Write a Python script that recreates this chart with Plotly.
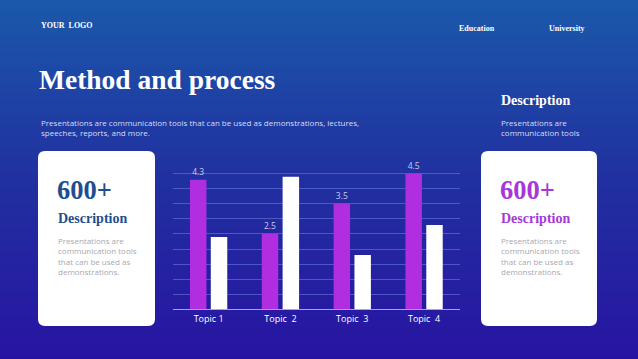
import plotly.graph_objects as go

W, H = 638, 359

categories = ["Topic 1", "Topic  2", "Topic  3", "Topic  4"]
series_a = [4.3, 2.5, 3.5, 4.5]
series_b = [2.4, 4.4, 1.8, 2.8]
y_ticks = [0, 0.5, 1, 1.5, 2, 2.5, 3, 3.5, 4, 4.5, 5]

SERIF = "Liberation Serif"
SANS = "Open Sans"

def px(x):
    return x / W

def py(y):
    return 1 - y / H

fig = go.Figure()

fig.add_trace(go.Bar(
    x=categories, y=series_a, marker=dict(color="#b02ee0", line=dict(width=0)),
    text=[str(v) for v in series_a], textposition="outside",
    textfont=dict(family=SANS, size=8.5, color="#c8c8f0"), cliponaxis=False,
))
fig.add_trace(go.Bar(
    x=categories, y=series_b, marker=dict(color="#ffffff", line=dict(width=0)),
))

shapes = []
top = (27, 88, 170)
mid = (33, 48, 160)
bot = (40, 20, 162)
N = 90
for i in range(N):
    t = i / (N - 1)
    if t < 0.5:
        u = t / 0.5
        c = [round(top[k] + (mid[k] - top[k]) * u) for k in range(3)]
    else:
        u = (t - 0.5) / 0.5
        c = [round(mid[k] + (bot[k] - mid[k]) * u) for k in range(3)]
    shapes.append(dict(
        type="rect", xref="paper", yref="paper", x0=0, x1=1,
        y0=1 - (i + 1) / N - 0.002, y1=1 - i / N,
        fillcolor="rgb(%d,%d,%d)" % tuple(c), line=dict(width=0), layer="below",
    ))

def rounded(x0, y0, x1, y1, r):
    p = []
    p.append("M %f %f" % (px(x0 + r), py(y0)))
    p.append("L %f %f" % (px(x1 - r), py(y0)))
    p.append("Q %f %f %f %f" % (px(x1), py(y0), px(x1), py(y0 + r)))
    p.append("L %f %f" % (px(x1), py(y1 - r)))
    p.append("Q %f %f %f %f" % (px(x1), py(y1), px(x1 - r), py(y1)))
    p.append("L %f %f" % (px(x0 + r), py(y1)))
    p.append("Q %f %f %f %f" % (px(x0), py(y1), px(x0), py(y1 - r)))
    p.append("L %f %f" % (px(x0), py(y0 + r)))
    p.append("Q %f %f %f %f" % (px(x0), py(y0), px(x0 + r), py(y0)))
    p.append("Z")
    return " ".join(p)

for (x0, x1) in [(38, 155), (481, 597)]:
    shapes.append(dict(type="path", xref="paper", yref="paper",
                       path=rounded(x0, 151, x1, 326, 7),
                       fillcolor="#ffffff", line=dict(width=0), layer="below"))

annotations = []

def txt(x, y, s, size, color, family, anchor="left"):
    annotations.append(dict(
        x=px(x), y=py(y), xref="paper", yref="paper", text=s, showarrow=False,
        xanchor=anchor, yanchor="middle", align="left",
        font=dict(family=family, size=size, color=color),
    ))

txt(39, 25, "<b>YOUR  LOGO</b>", 8, "#ffffff", SERIF)
txt(457, 28, "<b>Education</b>", 8, "#ffffff", SERIF)
txt(547, 28, "<b>University</b>", 8, "#ffffff", SERIF)
txt(37, 79, "<b>Method and process</b>", 27.5, "#ffffff", SERIF)
txt(39, 127, "Presentations are communication tools that can be used as demonstrations, lectures,<br>speeches, reports, and more.", 8, "#d8dcf5", SANS)
txt(499, 100, "<b>Description</b>", 14, "#ffffff", SERIF)
txt(499, 127, "Presentations are<br>communication tools", 8, "#d8dcf5", SANS)

for (x, col) in [(56, "#1f4e8e"), (499, "#a638d8")]:
    txt(x - 1, 190, "<b>600+</b>", 26.5, col, SERIF)
    txt(x, 218, "<b>Description</b>", 14, col, SERIF)
    txt(x, 255.5, "Presentations are<br>communication tools<br>that can be used as<br>demonstrations.", 8, "#a8a8b0", SANS)

fig.update_layout(
    width=W, height=H, margin=dict(l=0, r=0, t=0, b=0),
    paper_bgcolor="#2330a0", plot_bgcolor="rgba(0,0,0,0)",
    shapes=shapes, annotations=annotations,
    barmode="group", bargap=0.42, bargroupgap=0.21,
    showlegend=False,
    xaxis=dict(domain=[px(172.7), px(460)], showgrid=False, showline=False,
               ticks="", tickfont=dict(family=SANS, size=9, color="#ffffff"),
               ticklabelstandoff=3, zeroline=False),
    yaxis=dict(domain=[py(309.3), py(158.6)], range=[0, 5], tickvals=y_ticks,
               showticklabels=False, showgrid=True,
               gridcolor="rgba(110,130,230,0.55)", gridwidth=1,
               zeroline=True, zerolinecolor="rgba(170,180,245,0.9)", zerolinewidth=1.2,
               showline=False),
)

fig.write_html("out.html", config={"displayModeBar": False},
               post_script="document.body.style.margin='0';document.body.style.padding='0';")
